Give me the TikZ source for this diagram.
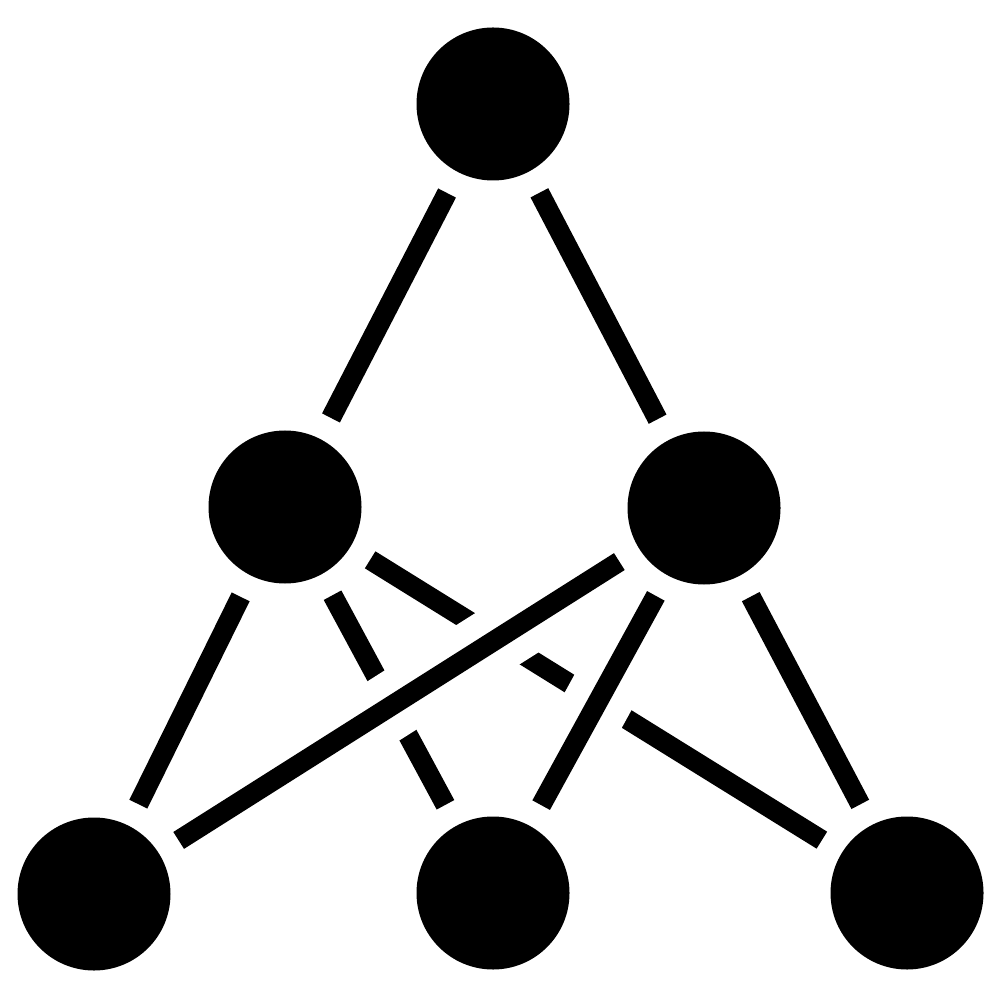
\documentclass[tikz,border=0pt]{standalone}
\begin{document}
\begin{tikzpicture}[every node/.style={circle,fill,inner sep=0pt,minimum size=1.53cm},
    link/.style={line width=0.2cm,shorten <=0.23cm,shorten >=0.23cm},
    knock/.style={white,line width=0.67cm,shorten <=0.23cm,shorten >=0.23cm}]
      \useasboundingbox (0,0) rectangle (10,-10);
      \draw
        (4.93,-1.04) node (0){}
        (2.85,-5.07) node (1){}
        (7.04,-5.08) node (2){}
        (0.94,-8.94) node (3){}
        (4.93,-8.93) node (4){}
        (9.07,-8.93) node (5){};
      \begin{scope}[link]
        \draw (0) to (1);
        \draw (0) to (2);
        \draw (1) to (3);
        \draw (2) to (5);
        \draw (1) to (4);
        \draw (1) to (5);
      \end{scope}
      % lines passing over the others
      \begin{scope}[knock]
        \draw (2) to (3);
        \draw (2) to (4);
      \end{scope}
      \begin{scope}[link]
        \draw (2) to (3);
        \draw (2) to (4);
      \end{scope}
    \end{tikzpicture}
\end{document}
